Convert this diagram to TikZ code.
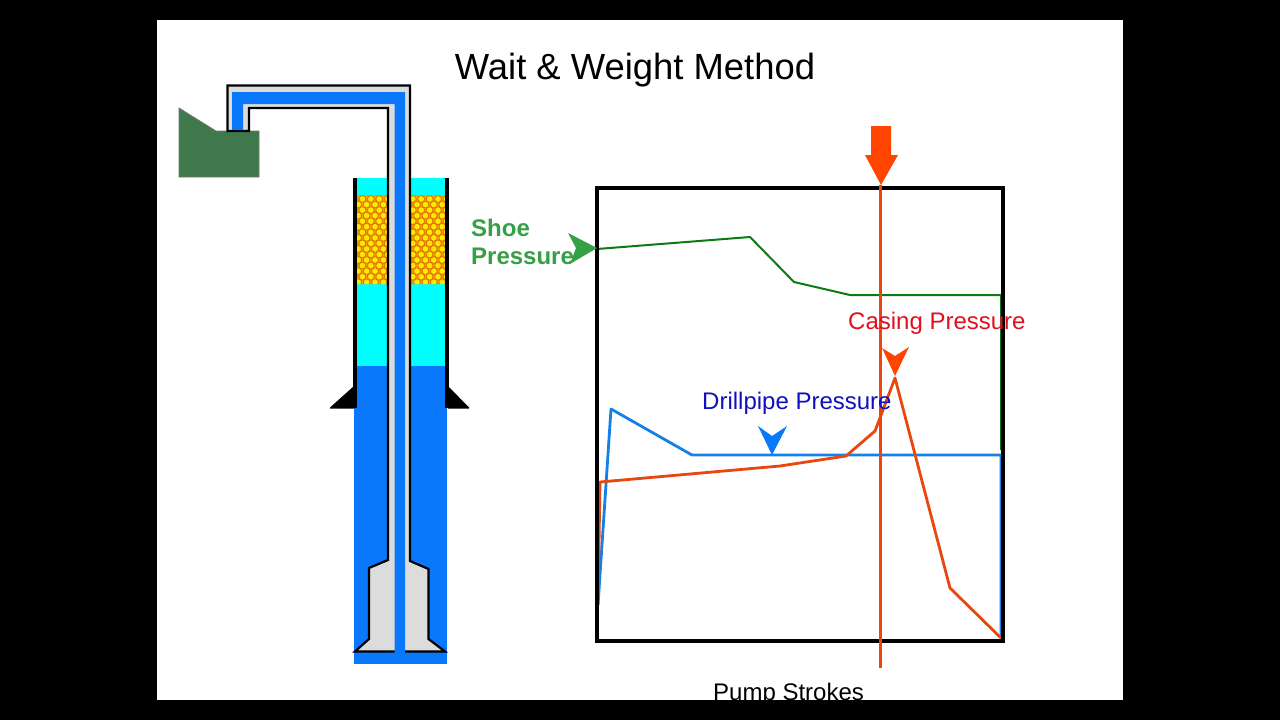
\documentclass[tikz,border=0pt]{standalone}
\usepackage{fontspec}
\setmainfont{Liberation Sans}
\definecolor{tankgreen}{HTML}{3F784A}
\definecolor{mudblue}{HTML}{0A78FA}
\definecolor{cyanmud}{HTML}{00FFFF}
\definecolor{pipegray}{HTML}{DCDCDC}
\definecolor{gasorange}{HTML}{F2A800}
\definecolor{gasyellow}{HTML}{FFEA00}
\definecolor{gasline}{HTML}{E07000}
\definecolor{orangeline}{HTML}{E8480F}
\definecolor{arroworange}{HTML}{FF4500}
\definecolor{shoegreen}{HTML}{36A046}
\definecolor{darkgreenline}{HTML}{0E7A14}
\definecolor{drilltext}{HTML}{1010C0}
\definecolor{casingtext}{HTML}{E01020}
\definecolor{drillline}{HTML}{1480E8}
\tikzset{
  lbl/.style={inner sep=0pt,anchor=west,font=\fontsize{24}{29}\selectfont},
  curve/.style={line width=2.8pt,line join=round},
  gascell/.style={draw=gasline,fill=gasyellow,line width=0.8pt},
}
\begin{document}
\begin{tikzpicture}[x=1pt,y=-1pt]
\useasboundingbox (0,0) rectangle (1280,720);
\fill[black] (0,0) rectangle (1280,720);
\fill[white] (157,20) rectangle (1123,700);
% tank
\draw[fill=tankgreen,draw=gray!70!tankgreen,line width=0.8pt] (179,108) -- (216,131) -- (259,131) -- (259,177) -- (179,177) -- cycle;
% annulus
\fill[cyanmud] (356,178) rectangle (388,367);
\fill[cyanmud] (410,178) rectangle (446,367);
\fill[mudblue] (354,366) rectangle (447,664);
% gas
\begin{scope}
\clip (356,195) rectangle (388,284) (410,195) rectangle (446,284);
\fill[gasorange] (350,190) rectangle (450,290);
\foreach \r in {0,...,16}{
  \pgfmathsetmacro{\yy}{199+\r*5.55}
  \pgfmathsetmacro{\off}{mod(\r,2)*4.2}
  \foreach \c in {0,...,12}{
    \draw[gascell] ({354+\c*8.4+\off},\yy) circle (3.4);
  }
}
\end{scope}
% casing walls
\fill[black] (353,178) rectangle (357,408);
\fill[black] (445,178) rectangle (449,408);
\fill[black] (330,407.5) -- (354,386) -- (354,408.5) -- (330,408.5) -- cycle;
\fill[black] (469,407.5) -- (448,386) -- (448,408.5) -- (469,408.5) -- cycle;
% drill string
\draw[fill=pipegray,draw=black,line width=2.2pt,line join=miter]
  (227.5,131) -- (227.5,85.5) -- (410,85.5) -- (410,561) -- (428.5,569) -- (428.5,639) -- (445,651.5) -- (355,651.5) -- (369,639) -- (369,568) -- (388,560) -- (388,108) -- (249,108) -- (249,131) -- cycle;
\fill[mudblue] (232,132) -- (232,92) -- (405,92) -- (405,652.8) -- (394.5,652.8) -- (394.5,104) -- (243,104) -- (243,132) -- cycle;
\draw[black,line width=2.2pt] (227,131) -- (250,131);
% chart
\draw[darkgreenline,line width=2pt,line join=round] (597,249) -- (750,237) -- (794,282) -- (850,295) -- (1001,295) -- (1001,450);
\draw[drillline,curve] (598,605) -- (611,409) -- (692,455) -- (1001,455) -- (1001,636);
\draw[orangeline,curve] (598,605) -- (600,482) -- (780,466) -- (846,456) -- (875,431) -- (895,378) -- (950,588) -- (1001,638);
\draw[black,line width=3.4pt] (597,188) rectangle (1003,641);
\draw[orangeline,line width=3pt] (880,185) -- (880,668);
\fill[arroworange] (871,126) -- (891,126) -- (891,155) -- (898,155) -- (881,185) -- (865,155) -- (871,155) -- cycle;
\fill[arroworange] (882,348) -- (895,356) -- (909,347) -- (895,376) -- cycle;
\fill[mudblue] (758,426) -- (772,436) -- (787,426) -- (772,455) -- cycle;
\fill[shoegreen] (568,233) -- (597,248) -- (570,264) -- (576,248) -- cycle;
% labels
\node[inner sep=0pt,font=\fontsize{36.4}{43}\selectfont] (title) at (635,70.5) {Wait \& Weight Method};
\node[lbl,text=shoegreen,font=\fontsize{24}{29}\selectfont\bfseries,anchor=west] (shoe1) at (471,228) {Shoe};
\node[lbl,text=shoegreen,font=\fontsize{24}{29}\selectfont\bfseries,anchor=west] (shoe2) at (471,256) {Pressure};
\node[lbl,text=casingtext] (casing) at (848,323) {Casing Pressure};
\node[lbl,text=drilltext] (drill) at (702,403) {Drillpipe Pressure};
\node[lbl,text=black] (pump) at (713,694) {Pump Strokes};
\fill[black] (157,700) rectangle (1123,720);
\end{tikzpicture}
\end{document}
